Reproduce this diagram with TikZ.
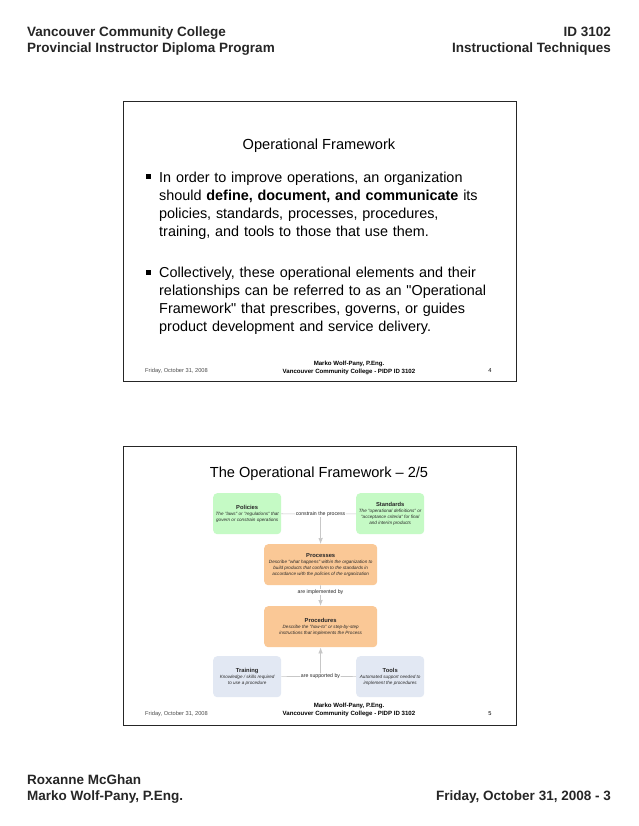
\documentclass[tikz,border=0pt]{standalone}
\usepackage{fontspec}
\newfontfamily\lib{Liberation Sans}
\AtBeginDocument{\lib}
\usetikzlibrary{arrows.meta}
\tikzset{
 page/.style={x=1pt,y=-1pt},
 head/.style={font=\fontsize{13.5}{17}\selectfont\bfseries,text=black!85,inner sep=0pt,align=left},
 headr/.style={head,align=right},
 slide/.style={draw=black!85,line width=1pt,fill=white,inner sep=0pt,minimum width=393pt},
 stitle/.style={font=\fontsize{14.6}{18}\selectfont,inner sep=0pt},
 bodytxt/.style={font=\fontsize{14.4}{18.1}\selectfont,align=left,anchor=north west,inner sep=0pt,text width=345pt},
 bul/.style={fill=black,minimum size=5pt,inner sep=0pt},
 foot/.style={font=\fontsize{5.7}{8}\selectfont,inner sep=0pt,text=black!70},
 footb/.style={font=\fontsize{6.1}{8}\selectfont\bfseries,inner sep=0pt,align=center},
 fbox/.style={rounded corners=4pt,minimum height=41pt,inner sep=1pt,align=center,font=\fontsize{4.6}{6}\selectfont\itshape,text=black!85},
 green/.style={fbox,fill={rgb,255:red,197;green,250;blue,197},minimum width=68pt},
 orange/.style={fbox,fill={rgb,255:red,250;green,200;blue,150},minimum width=113pt},
 blue/.style={fbox,fill={rgb,255:red,226;green,232;blue,243},minimum width=68pt},
 lbl/.style={font=\fontsize{5.2}{7}\selectfont,inner sep=.5pt,text=black!85},
 conn/.style={draw=black!22,line width=.7pt},
 arr/.style={conn,-{Latex[length=6pt,width=4.5pt]}},
}
\newcommand{\boxt}[1]{{\fontsize{5.8}{7}\selectfont\bfseries\upshape #1}\\}
\begin{document}
\begin{tikzpicture}[page]
\useasboundingbox (0,0) rectangle (638,826);
\fill[white] (0,0) rectangle (638,826);
\node[head,anchor=base west] (h1) at (27,36.5) {Vancouver Community College};
\node[head,anchor=base west] (h2) at (27,52.5) {Provincial Instructor Diploma Program};
\node[headr,anchor=base east] (h3) at (611,36.5) {ID 3102};
\node[headr,anchor=base east] (h4) at (611,52.5) {Instructional Techniques};
\node[head,anchor=base west] (f1) at (27,784) {Roxanne McGhan};
\node[head,anchor=base west] (f2) at (27,800.5) {Marko Wolf-Pany, P.Eng.};
\node[headr,anchor=base east] (f3) at (611,800.5) {Friday, October 31, 2008 - 3};

\node[slide,minimum height=280pt,anchor=north west] (s1) at (123,101) {};
\node[stitle] (t1) at (319,145.5) {Operational Framework};
\node[bul] (b1) at (148.5,177) {};
\node[bodytxt] (p1) at (159,172) {In order to improve operations, an organization\\should \textbf{define, document, and communicate} its\\policies, standards, processes, procedures,\\training, and tools to those that use them.};
\node[bul] (b2) at (148.5,272) {};
\node[bodytxt] (p2) at (159,266.5) {Collectively, these operational elements and their\\relationships can be referred to as an "Operational\\Framework" that prescribes, governs, or guides\\product development and service delivery.};
\node[foot,anchor=west] (d1) at (145,371.5) {Friday, October 31, 2008};
\node[footb] (c1) at (349,367.5) {Marko Wolf-Pany, P.Eng.\\Vancouver Community College - PIDP ID 3102};
\node[foot,text=black] (n1) at (490,371) {4};

\node[slide,minimum height=279pt,anchor=north west] (s2) at (123,446) {};
\node[stitle] (t2) at (319,473.5) {The Operational Framework – 2/5};
\node[green,anchor=north west] (pol) at (213,493) {\boxt{Policies}The "laws" or "regulations" that\\govern or constrain operations};
\node[green,anchor=north west] (std) at (356,493) {\boxt{Standards}The "operational definitions" or\\"acceptance criteria" for final\\and interim products};
\node[orange,anchor=north west] (prc) at (264,544) {\boxt{Processes}Describe "what happens" within the organization to\\build products that conform to the standards in\\accordance with the policies of the organization};
\node[orange,anchor=north west] (pdr) at (264,606) {\boxt{Procedures}Describe the "how-to" or step-by-step\\instructions that implements the Process};
\node[blue,anchor=north west] (trn) at (213,656) {\boxt{Training}Knowledge / skills required\\to use a procedure};
\node[blue,anchor=north west] (tls) at (356,656) {\boxt{Tools}Automated support needed to\\implement the procedures};
\node[lbl] (con) at (320.5,514) {constrain the process};
\node[lbl] (imp) at (320.5,592) {are implemented by};
\node[lbl] (sup) at (320.5,676.5) {are supported by};
\draw[conn] (pol) -- (con);
\draw[conn] (std) -- (con);
\draw[arr] (con) -- (prc);
\draw[conn] (prc) -- (imp);
\draw[arr] (imp) -- (pdr);
\draw[conn] (trn) -- (sup);
\draw[conn] (tls) -- (sup);
\draw[arr] (sup) -- (pdr);
\node[foot,anchor=west] (d2) at (145,714) {Friday, October 31, 2008};
\node[footb] (c2) at (349,710) {Marko Wolf-Pany, P.Eng.\\Vancouver Community College - PIDP ID 3102};
\node[foot,text=black] (n2) at (490,714) {5};
\end{tikzpicture}
\end{document}
